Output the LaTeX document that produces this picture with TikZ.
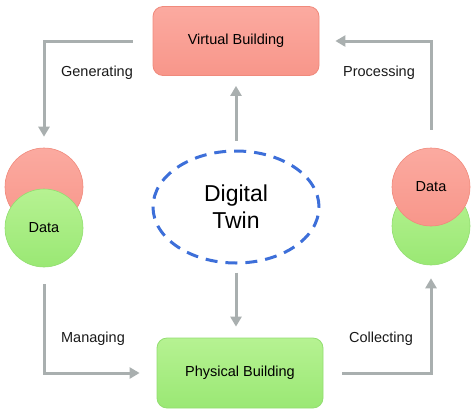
\documentclass[tikz,border=0pt]{standalone}
\usepackage{fontspec}
\setmainfont{Liberation Sans}
\usetikzlibrary{arrows.meta,shapes.geometric}

\begin{document}
\begin{tikzpicture}[x=1pt,y=-1pt,
  redbox/.style={draw=boxred,line width=0.8pt,rounded corners=10pt,top color=redtop,bottom color=redbot,minimum width=166pt,minimum height=69pt,inner sep=0pt,font=\fontsize{14.5}{17}\selectfont},
  greenbox/.style={redbox,draw=boxgreen,top color=greentop,bottom color=greenbot},
  reddisc/.style={circle,draw=boxred,line width=0.6pt,top color=redtop,bottom color=redbot,minimum size=78pt,inner sep=0pt,font=\fontsize{14.5}{17}\selectfont},
  greendisc/.style={reddisc,draw=boxgreen,top color=greentop,bottom color=greenbot},
  flow/.style={draw=flowgrey,line width=3pt,-{Triangle[length=10pt,width=11pt]}},
  steplabel/.style={font=\fontsize{14.5}{17}\selectfont,text=black!90}]
\definecolor{boxred}{HTML}{F08A7C}
\definecolor{redtop}{HTML}{FBAAA0}
\definecolor{redbot}{HTML}{F8968A}
\definecolor{boxgreen}{HTML}{92DE70}
\definecolor{greentop}{HTML}{B6F292}
\definecolor{greenbot}{HTML}{9AE874}
\definecolor{flowgrey}{HTML}{A9AFAF}
\definecolor{twinblue}{HTML}{3D6FD9}
\useasboundingbox (0,0) rectangle (474,416);
% buildings
\node [redbox] (virtual) at (236,41) {Virtual Building};
\node [greenbox,minimum height=70pt] (physical) at (240,373) {Physical Building};
% data discs, left: red behind green, right: green behind red
\node [reddisc] (redL) at (44,187) {};
\node [greendisc] (greenL) at (44,228) {Data};
\node [greendisc] (greenR) at (431,226) {};
\node [reddisc] (redR) at (431,187) {Data};
% digital twin
\node [ellipse,draw=twinblue,line width=3pt,dash pattern=on 12pt off 8pt,minimum width=166pt,minimum height=112pt,inner sep=0pt,align=center,font=\fontsize{23}{27}\selectfont] (twin) at (236,207) {Digital\\Twin};
% step labels
\foreach \txt/\px/\py in {Generating/97/73,Processing/379/73,Managing/93/339,Collecting/381/339}
  {  \node [steplabel] (lbl\txt) at (\px,\py) {\txt};}
% connectors
\draw [flow,shorten <=20pt,shorten >=11pt] (virtual.west) -| (redL.north);
\draw [flow,shorten <=18pt,shorten >=16pt] (redR.north) |- (virtual.east);
\draw [flow,shorten <=17pt,shorten >=17pt] (greenL.south) |- (physical.west);
\draw [flow,shorten <=19pt,shorten >=13pt] (physical.east) -| (greenR.south);
\draw [flow,shorten <=9pt,shorten >=10pt] (twin.north) -- (virtual.south);
\draw [flow,shorten <=8pt,shorten >=11pt] (twin.south) -- (twin.south |- physical.north);
\end{tikzpicture}
\end{document}
